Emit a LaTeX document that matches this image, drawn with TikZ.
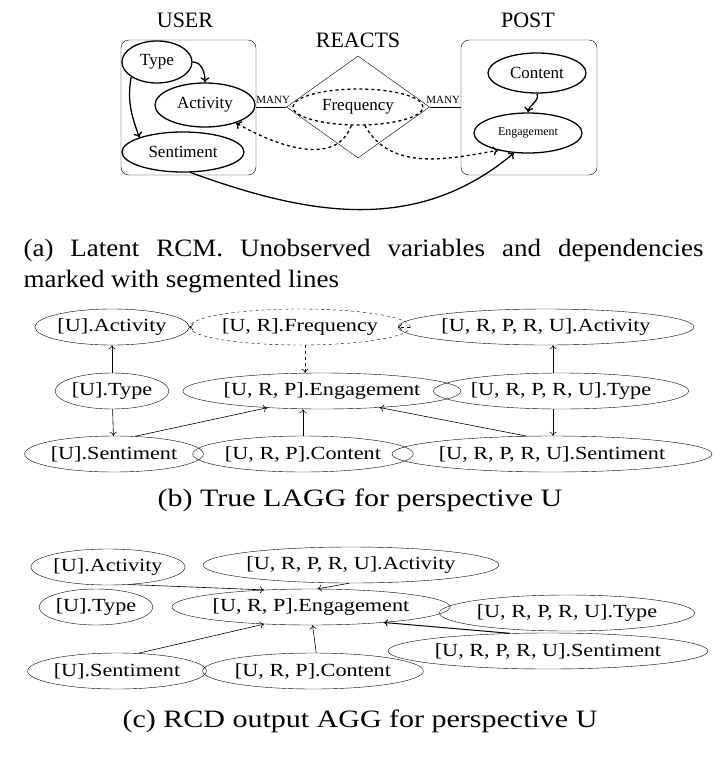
\documentclass[tikz,border=0pt]{standalone}
\usepackage{fontspec}
\setmainfont{Liberation Serif}
\newfontfamily\widef{Liberation Serif}[FakeStretch=1.2]
\newfontfamily\capaf{Liberation Serif}[FakeStretch=1.08]
\usetikzlibrary{shapes.geometric,arrows.meta}
\begin{document}
\begin{tikzpicture}[x=1pt,y=-1pt,
  el/.style={ellipse,draw,inner sep=0pt,minimum height=36pt,font=\widef\fontsize{18.5}{21}\selectfont},
  bel/.style={ellipse,draw,line width=1.3pt,inner sep=0pt,font=\fontsize{17}{19}\selectfont},
  arr/.style={-{To[length=4pt,width=7pt]},line width=0.6pt},
  barr/.style={-{To[length=5pt,width=9pt]},line width=1.3pt},
  dsh/.style={dashed},
  captxt/.style={font=\widef\fontsize{25}{28}\selectfont}]
\useasboundingbox (0,0) rectangle (720,771);
% (a)
\node[font=\fontsize{22}{26}\selectfont] (user) at (185,20) {USER};
\node[font=\fontsize{22}{26}\selectfont] (reacts) at (358,40) {REACTS};
\node[font=\fontsize{22}{26}\selectfont] (post) at (528,20) {POST};
\node[draw,rounded corners=8pt,minimum width=135pt,minimum height=135pt] (ubox) at (188.5,107.5) {};
\node[draw,rounded corners=8pt,minimum width=136pt,minimum height=135pt] (pbox) at (529,107.5) {};
\node[diamond,draw,minimum width=143pt,minimum height=102pt,inner sep=0pt,aspect=1.4] (dia) at (358,107) {};
\node[bel,minimum width=70pt,minimum height=42pt] (type) at (157,62) {Type};
\node[bel,minimum width=100pt,minimum height=44pt] (act) at (205,105) {Activity};
\node[bel,minimum width=122pt,minimum height=40pt] (sent) at (183,152) {Sentiment};
\node[bel,dashed,minimum width=130pt,minimum height=36pt] (freq) at (358,107) {Frequency};
\node[bel,minimum width=98pt,minimum height=40pt] (cont) at (537,73) {Content};
\node[bel,minimum width=108pt,minimum height=40pt,font=\fontsize{12}{14}\selectfont] (eng) at (528,133) {Engagement};
\draw (ubox.east |- dia.west) -- node[above,font=\fontsize{11}{13}\selectfont,xshift=2pt] {MANY} (dia.west);
\draw (dia.east) -- node[above,font=\fontsize{11}{13}\selectfont,xshift=-2pt] {MANY} (pbox.west |- dia.east);
\draw[barr] (type.east) to[out=0,in=90] (act.north);
\draw[barr] (type.210) to[out=-100,in=110] (sent.north west);
\draw[barr] (cont.south) to[out=-70,in=80] (eng.north);
\draw[barr,dsh] (freq.250) to[out=-110,in=-30] (act.-30);
\draw[barr,dsh] (freq.290) to[out=-60,in=190] (eng.-150);
\draw[barr] (sent.-70) to[out=-20,in=-140] (eng.-125);
\node[text width=680pt,align=justify,anchor=north west,font=\capaf\fontsize{25}{31}\selectfont] (capa) at (20,236) {(a) Latent RCM. Unobserved variables and dependencies\linebreak marked with segmented lines};
% (b)
\node[el,minimum width=149pt] (ba) at (112,327) {[U].Activity};
\node[el,dashed,minimum width=195pt] (bf) at (300,327) {[U, R].Frequency};
\node[el,minimum width=238pt] (bra) at (546,327) {[U, R, P, R, U].Activity};
\node[el,minimum width=102pt] (bt) at (112,391) {[U].Type};
\node[el,minimum width=235pt] (be) at (322,391) {[U, R, P].Engagement};
\node[el,minimum width=241pt] (brt) at (561,391) {[U, R, P, R, U].Type};
\node[el,minimum width=155pt] (bs) at (114,454) {[U].Sentiment};
\node[el,minimum width=173pt] (bc) at (303,454) {[U, R, P].Content};
\node[el,minimum width=275pt] (brs) at (552,454) {[U, R, P, R, U].Sentiment};
\draw[arr] (bt) -- (ba);
\draw[arr] (bt) -- (bs);
\draw[arr] (brt.north -| 553,0) -- (bra.south -| 553,0);
\draw[arr] (brt.south -| 553,0) -- (brs.north -| 553,0);
\draw[arr] (bs.40) -- (be.-163);
\draw[arr] (bc.north) -- (be.south -| bc.north);
\draw[arr] (brs.145) -- (be.-16);
\draw[arr,dsh] (bf) -- (ba);
\draw[arr,dsh] (bf) -- (bra);
\draw[arr,dsh] (bf.south -| 305,0) -- (be.north -| 305,0);
\node[captxt] (capb) at (360,500) {(b) True LAGG for perspective U};
% (c)
\node[el,minimum width=139pt] (ca) at (108,567) {[U].Activity};
\node[el,minimum width=253pt] (cra) at (351,565) {[U, R, P, R, U].Activity};
\node[el,minimum width=225pt] (crt) at (567,613) {[U, R, P, R, U].Type};
\node[el,minimum width=90pt] (ct) at (96,607) {[U].Type};
\node[el,minimum width=237pt] (ce) at (311,607) {[U, R, P].Engagement};
\node[el,minimum width=283pt] (crs) at (548,651) {[U, R, P, R, U].Sentiment};
\node[el,minimum width=158pt] (cs) at (117,671) {[U].Sentiment};
\node[el,minimum width=160pt] (cc) at (313,671) {[U, R, P].Content};
\draw[arr] (ca.-40) -- (ce.160);
\draw[arr] (cra.-95) -- (ce.70);
\draw[arr] (cs.40) -- (ce.-160);
\draw[arr] (cc.80) -- (ce.-85);
\draw[arr,line width=1pt] (crs.155) -- (ce.-12);
\node[captxt] (capc) at (360,721) {(c) RCD output AGG for perspective U};
\end{tikzpicture}
\end{document}
